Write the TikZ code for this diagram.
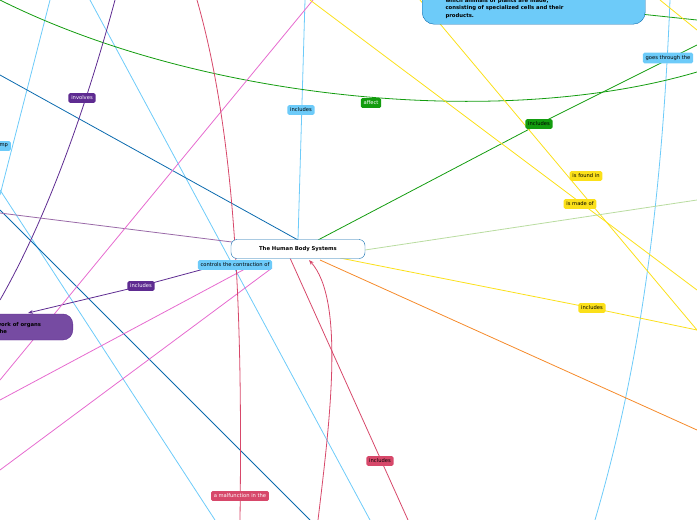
\documentclass[tikz,border=0pt]{standalone}
\usepackage{fontspec}
\setsansfont{DejaVu Sans}
\usetikzlibrary{arrows.meta}
\definecolor{lb}{HTML}{6DCBF9}
\definecolor{db}{HTML}{0A6AAE}
\definecolor{gr}{HTML}{139C0F}
\definecolor{pu}{HTML}{5E2B91}
\definecolor{pk}{HTML}{E66BCF}
\definecolor{rd}{HTML}{D7486A}
\definecolor{ye}{HTML}{FBE01A}
\definecolor{og}{HTML}{F58A2A}
\definecolor{lg}{HTML}{B9DCA0}
\definecolor{mv}{HTML}{9A6AA8}
\begin{document}
\begin{tikzpicture}[x=1pt,y=-1pt,
 lab/.style={rounded corners=1.5pt,inner sep=2.8pt,font=\sffamily\fontsize{5.2}{6}\selectfont,text=#1},
 big/.style={anchor=north west,align=left,font=\sffamily\bfseries\fontsize{5.3}{7.3}\selectfont},
 ln/.style={line width=0.8pt}]
\path[use as bounding box] (0,0) rectangle (697,520);
\begin{scope}
\clip (0,0) rectangle (697,520);
% lines
\draw[ln,lb] (50,0) -- (0,195);
\draw[ln,lb] (0,190) -- (215,520);
\draw[ln,lb] (90,0) -- (370,520);
\draw[ln,lb] (305,0) -- (298,240);
\draw[ln,lb] (670,0) .. controls (660,250) and (630,400) .. (595,520);
\draw[ln,db] (0,75) -- (298,240);
\draw[ln,db] (0,210) -- (310,520);
\draw[ln,gr] (0,0) .. controls (200,100) and (500,130) .. (697,72);
\draw[ln,gr] (640,14) -- (697,20);
\draw[ln,gr] (318,240) -- (539,124) -- (697,45);
\draw[ln,pu] (115,0) .. controls (80,130) and (40,230) .. (0,300);
\draw[ln,pu,-{Stealth[length=5pt]}] (230,262) -- (141,286) -- (28,313);
\draw[ln,mv] (0,213) -- (232,242);
\draw[ln,pk] (313,0) -- (0,380);
\draw[ln,pk] (258,262) -- (0,400);
\draw[ln,pk] (272,268) -- (0,470);
\draw[ln,rd] (197,0) .. controls (240,150) and (242,350) .. (240,520);
\draw[ln,rd] (290,258) -- (408,520);
\draw[ln,rd,-{Stealth[length=5pt]}] (318,520) .. controls (330,420) and (345,300) .. (309,260);
\draw[ln,ye] (310,0) -- (697,290);
\draw[ln,ye] (420,0) -- (697,330);
\draw[ln,ye] (660,0) -- (697,30);
\draw[ln,ye] (340,258) -- (592,308) -- (697,330);
\draw[ln,og] (320,260) -- (697,430);
\draw[ln,lg] (365,250) -- (697,200);
% nodes
\node[draw=db,fill=white,rounded corners=6pt,minimum width=134pt,minimum height=19pt,font=\sffamily\bfseries\fontsize{5.3}{6}\selectfont] (c) at (298,249) {The Human Body Systems};
\node[draw=db,fill=lb,rounded corners=12pt,minimum width=223pt,minimum height=48pt,anchor=north west,inner sep=0pt] (top) at (422,-24) {};
\node[big] (toptxt) at (442,-5) {which animals or plants are made,\\consisting of specialized cells and their\\products.};
\node[fill=pu!85!white,draw=pu,rounded corners=10pt,minimum width=110pt,minimum height=26pt,anchor=east] (org) at (73,327) {};
\node[big] (orgtxt) at (-30,319) {The network of organs\\\hspace*{16pt}in the};
% labels
\node[lab=white,fill=gr] (l1) at (371,103) {affect};
\node[lab=black,fill=gr] (l2) at (539,124) {includes};
\node[lab=black,fill=lb] (l3) at (668,58) {goes through the};
\node[lab=black,fill=lb] (l4) at (301,110) {includes};
\node[lab=black,fill=lb] (l5) at (235,265) {controls the contraction of};
\node[lab=white,fill=pu] (l6) at (82,98) {involves};
\node[lab=black,fill=lb,anchor=east] (l7) at (11,146) {mp};
\node[lab=white,fill=pu] (l8) at (141,286) {includes};
\node[lab=black,fill=ye] (l9) at (586,176) {is found in};
\node[lab=black,fill=ye] (l10) at (580,204) {is made of};
\node[lab=black,fill=ye] (l11) at (592,308) {includes};
\node[lab=black,fill=rd] (l12) at (380,461) {includes};
\node[lab=white,fill=rd] (l13) at (240,496) {a malfunction in the};
\end{scope}
\end{tikzpicture}
\end{document}
